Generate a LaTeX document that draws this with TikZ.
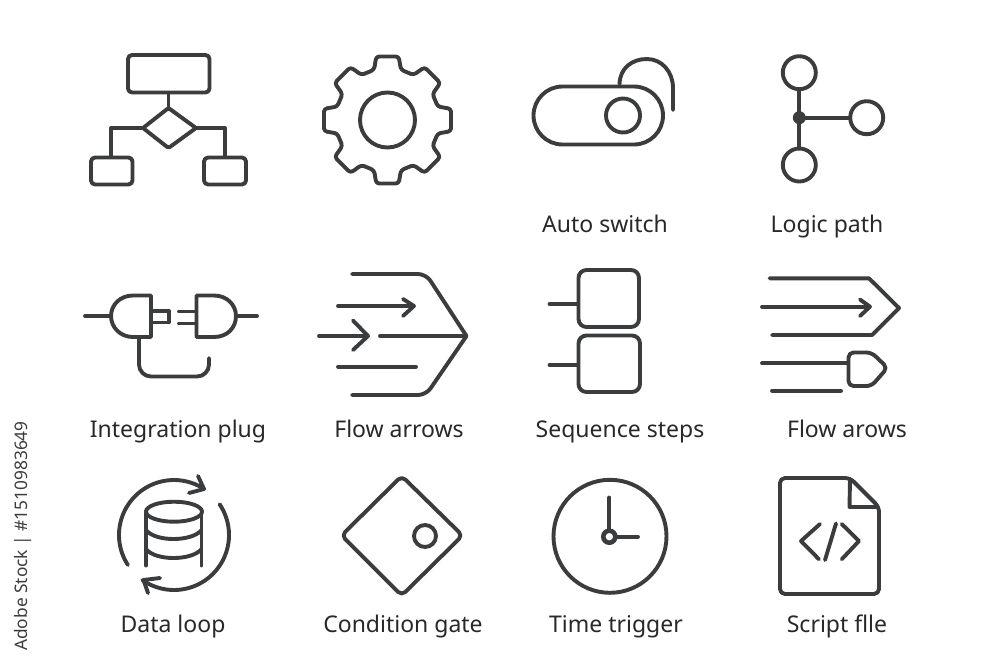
\documentclass[tikz,border=0pt]{standalone}
\usepackage{fontspec}
\setmainfont{Noto Sans}
\definecolor{ink}{HTML}{3A3C3E}
\definecolor{txt}{HTML}{262829}
\tikzset{
  icon/.style={draw=ink,line width=3.9pt,line cap=round,line join=round},
  thin icon/.style={icon,line width=3.4pt},
  lab/.style={text=txt,font=\fontsize{23}{26}\selectfont,inner sep=0pt,anchor=base},
}
\begin{document}
\begin{tikzpicture}[x=1pt,y=-1pt]
\useasboundingbox (0,0) rectangle (1000,667);
% flowchart
\draw[icon,rounded corners=4pt] (128,55) rectangle (209.5,92.5);
\draw[icon,rounded corners=4pt] (91,157.5) rectangle (132.5,184.5);
\draw[icon,rounded corners=4pt] (204,157.5) rectangle (246,184.5);
\draw[icon] (168.5,93) -- (168.5,109);
\draw[icon,rounded corners=1.5pt] (168.5,108) -- (196,128) -- (168.5,148) -- (143,128) -- cycle;
\draw[icon] (143,128) -- (111,128) -- (111,156);
\draw[icon] (196,128) -- (225,128) -- (225,156);
% gear
\begin{scope}[shift={(387.5,120)}]
\draw[icon,rounded corners=3pt] (-15:52)
  \foreach \a in {0,45,...,270} { -- (\a-10:64.5) -- (\a+10:64.5) -- (\a+15:52) -- (\a+30:52) }
  -- (305:64.5) -- (325:64.5) -- (330:52) -- cycle;
\draw[icon] (0,0) circle[radius=27.5];
\end{scope}
% auto switch
\draw[icon,rounded corners=29pt] (533.5,86.5) rectangle (663,144.5);
\draw[icon] (623,115.5) circle[radius=17];
\draw[icon] (619.5,84) .. controls (620,68) and (632,59) .. (647,59) .. controls (662,59) and (673,72) .. (673,88) -- (673,110);
\node[lab] (l1) at (605,232) {Auto switch};
% logic path
\draw[icon] (799.3,72.7) circle[radius=16.5];
\draw[icon] (866.7,117.7) circle[radius=16.5];
\draw[icon] (799.3,165) circle[radius=16.5];
\draw[icon] (799.3,89) -- (799.3,148.5);
\draw[icon] (799.3,117.7) -- (850,117.7);
\fill[ink] (799.3,117.7) circle[radius=6.5];
\node[lab] (l2) at (827,232) {Logic path};
% plug
\draw[icon] (133,295.5) .. controls (120,295.5) and (111,305) .. (111,316) .. controls (111,327) and (120,337) .. (133,337) -- (151,337) -- (151,295.5) -- cycle;
\draw[icon] (85,316) -- (110,316);
\draw[thin icon] (152,311) -- (169,311) -- (169,322.5) -- (152,322.5);
\draw[icon] (196.5,295.5) -- (214,295.5) .. controls (227,295.5) and (236,305) .. (236,316) .. controls (236,328) and (227,337) .. (214,337) -- (196.5,337) -- cycle;
\draw[icon] (237,316) -- (257,316);
\draw[icon] (179,311.5) -- (195,311.5);
\draw[icon] (179,323.5) -- (195,323.5);
\draw[icon,rounded corners=12pt] (139,337) -- (139,376.5) -- (209,376.5) -- (209,358);
\node[lab] (l3) at (178,437) {Integration plug};
% flow arrows
\draw[icon,rounded corners=8pt] (352,274) -- (426,274) [sharp corners] -- (466.5,336) [rounded corners=8pt] -- (426,395) -- (352,395);
\draw[icon] (338,306) -- (413,306);
\draw[icon] (403,299) -- (414,306) -- (403,316);
\draw[icon] (319,336) -- (367,336);
\draw[icon] (353,320.5) -- (368,336) -- (353,350);
\draw[icon] (380,336) -- (465,336);
\draw[icon] (338,366.7) -- (416,366.7);
\node[lab] (l4) at (399,437) {Flow arrows};
% sequence
\draw[icon,rounded corners=8pt] (578.5,270) rectangle (639,327);
\draw[icon,rounded corners=8pt] (578.5,335.5) rectangle (640,392);
\draw[icon] (549.5,304) -- (577,304);
\draw[icon] (549.5,365) -- (577,365);
\node[lab] (l5) at (620,437) {Sequence steps};
% flow arows
\draw[icon] (769.5,278.3) -- (869,278.3) -- (899,308) -- (872,335) -- (772,335);
\draw[icon] (762,306.7) -- (869,306.7);
\draw[icon] (860,299.5) -- (870,306.7) -- (860,316);
\draw[icon] (762,363.3) -- (848,363.3);
\draw[icon,rounded corners=5pt] (848.5,352.5) -- (871.5,352.5) -- (887.5,367.7) -- (871.5,386) -- (848.5,386) -- cycle;
\draw[icon] (772,390.7) -- (841,390.7);
\node[lab] (l6) at (847,437) {Flow arows};
% data loop
\draw[icon] (174,511.7) ellipse[x radius=28,y radius=10];
\draw[icon] (146,511.7) -- (146,565.5);
\draw[icon] (201.5,511.7) -- (201.5,565.5);
\draw[icon] (146,530) .. controls (155,542) and (192,542) .. (201.5,530);
\draw[icon] (146,549) .. controls (155,561) and (192,561) .. (201.5,549);
\draw[icon] plot[domain=147:303,samples=50,smooth] ({174+55*cos(\x)},{535+55*sin(\x)});
\draw[icon] plot[domain=-34:125,samples=50,smooth] ({174+55*cos(\x)},{535+55*sin(\x)});
\draw[icon] (198,476) -- (204,489) -- (189,493);
\draw[icon] (160,578) -- (143.5,580) -- (148,593);
\node[lab] (l7) at (173,632) {Data loop};
% condition gate
\draw[icon,rounded corners=5pt] (401.7,476) -- (462.5,535.5) -- (401.7,595.5) -- (341.5,535.5) -- cycle;
\draw[icon] (425,536) circle[radius=11];
\node[lab] (l8) at (403,632) {Condition gate};
% clock
\draw[icon] (610,536.3) circle[radius=56.5];
\draw[icon,line width=4.6pt] (609.3,536.7) circle[radius=6];
\draw[icon] (609.3,530) -- (609.3,497.5);
\draw[icon] (616,536.7) -- (638,536.7);
\node[lab] (l9) at (616,632) {Time trigger};
% file
\draw[icon,rounded corners=5pt] (780,478) -- (850,478) -- (879,507) -- (879,594) -- (780,594) -- cycle;
\draw[icon] (850,479) -- (849.5,507) -- (878,507);
\draw[icon] (820,524) -- (801,541) -- (819,559.3);
\draw[icon] (836,523.5) -- (825,560);
\draw[icon] (841.7,524) -- (859,541) -- (841.7,559.3);
\node[lab] (l10) at (837,632) {Script flle};
% stock id
\node[text=ink,font=\fontsize{17.3}{19}\selectfont,rotate=90,inner sep=0pt] (stock) at (23.5,536) {Adobe Stock | \#1510983649};
\end{tikzpicture}
\end{document}
